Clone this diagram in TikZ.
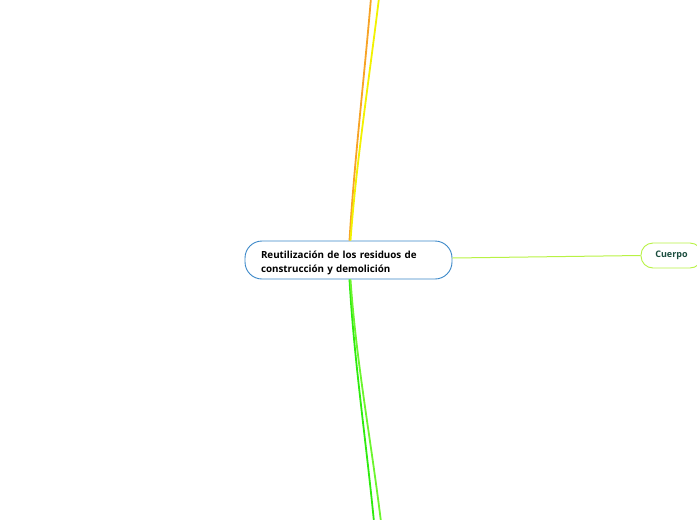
\documentclass[tikz,border=0pt]{standalone}
\usepackage{fontspec}
\setmainfont{Open Sans}
\definecolor{mainblue}{HTML}{3A87C8}
\definecolor{branchorange}{HTML}{F7A325}
\definecolor{branchyellow}{HTML}{F2F200}
\definecolor{branchgreen}{HTML}{2EEB0E}
\definecolor{branchlime}{HTML}{6CF52E}
\definecolor{cuerpolime}{HTML}{B8F244}
\definecolor{cuerpotext}{HTML}{1B4D3E}
\tikzset{
  mainbox/.style={draw=mainblue,line width=0.9pt,rounded corners=17pt,fill=white,
    minimum width=207pt,minimum height=38pt,text width=175pt,align=left,
    font=\fontsize{9.8}{14}\selectfont\bfseries},
  subbox/.style={draw=cuerpolime,line width=0.9pt,rounded corners=12pt,fill=white,
    minimum width=61pt,minimum height=25pt,text=cuerpotext,
    font=\fontsize{9}{10}\selectfont\bfseries},
  branch/.style={line width=1.8pt},
}
\begin{document}
\begin{tikzpicture}[x=1pt,y=-1pt]
  \useasboundingbox (0,0) rectangle (697,520);
  \clip (0,0) rectangle (697,520);

  \node[mainbox] (main) at (348.5,260) {\rule{0pt}{14pt}Reutilización de los residuos de\\construcción y demolición};
  \node[subbox] (cuerpo) at (671.5,255.5) {Cuerpo};

  \coordinate (topOrange) at (371,-2);
  \coordinate (topYellow) at (379,-2);
  \coordinate (botGreen) at (374,522);
  \coordinate (botLime) at (381,522);

  % branches up
  \draw[branch,branchorange] ([xshift=1pt]main.north) .. controls (354,165) and (364,80) .. (topOrange);
  \draw[branch,branchyellow] ([xshift=2pt]main.north) .. controls (356,165) and (369,80) .. (topYellow);

  % branches down
  \draw[branch,branchgreen] ([xshift=1pt]main.south) .. controls (354,360) and (366,440) .. (botGreen);
  \draw[branch,branchlime] ([xshift=2pt]main.south) .. controls (356,360) and (371,440) .. (botLime);

  \draw[cuerpolime,line width=1pt] ([yshift=2pt]main.east) -- (cuerpo.west);
\end{tikzpicture}
\end{document}
